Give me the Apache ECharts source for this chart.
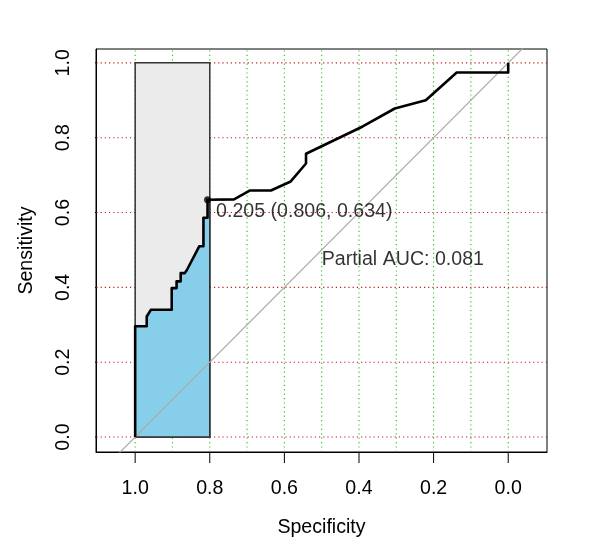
<!DOCTYPE html>
<html>
<head>
<meta charset="utf-8">
<script src="https://cdn.jsdelivr.net/npm/echarts@6/dist/echarts.min.js"></script>
<style>
  html, body { margin: 0; padding: 0; background: #fff; }
  #chart { width: 598px; height: 550px; }
</style>
</head>
<body>
<div id="chart"></div>
<script>
// ROC curve (specificity, sensitivity)
const rocSpec = [1.0, 1.0, 0.969, 0.969, 0.958, 0.902, 0.902, 0.889, 0.889, 0.878, 0.878, 0.867, 0.861, 0.828, 0.817, 0.817, 0.806, 0.806,
  0.735, 0.692, 0.636, 0.583, 0.542, 0.542, 0.390, 0.304, 0.221, 0.138, 0.0, 0.0]
const rocSens = [0.0, 0.296, 0.296, 0.322, 0.340, 0.340, 0.398, 0.398, 0.416, 0.416, 0.438, 0.438, 0.447, 0.510, 0.510, 0.586, 0.586, 0.634,
  0.635, 0.659, 0.659, 0.683, 0.731, 0.757, 0.830, 0.878, 0.900, 0.974, 0.974, 1.0]

// best threshold + partial AUC
const thresh = [0.806, 0.634]
const threshLabel = '0.205 (0.806, 0.634)'
const pauc = 0.081
const paucPos = [0.5, 0.5]
const focusSpec = [0.8, 1.0]   // partial auc range
const focusSens = [0.0, 1.0]

// ticks and grid lines
const xTicks = [0, 0.2, 0.4, 0.6, 0.8, 1.0]
const yTicks = [0, 0.2, 0.4, 0.6, 0.8, 1.0]
const vGrid = [0, 0.1, 0.2, 0.3, 0.4, 0.5, 0.6, 0.7, 0.8, 0.9, 1.0]
const hGrid = [0, 0.2, 0.4, 0.6, 0.8, 1.0]
const diag = [[1.2, -0.2], [-0.2, 1.2]]

const X_MIN = -0.104, X_MAX = 1.105
const Y_MIN = -0.04, Y_MAX = 1.037
const FONT = 'Liberation Sans'
const FS = 19.6
// tick length (11px) expressed in axis units
const TICK_X = 11 / 373
const TICK_Y = 11 / 374

const rocData = rocSpec.map((s, i) => [s, rocSens[i]])

// polygon under the curve, inside the focus range
const aucPoly = rocData.filter(p => p[0] >= focusSpec[0])
aucPoly.push([focusSpec[0], thresh[1]])
aucPoly.push([focusSpec[0], 0])

const gridSeries = []
vGrid.forEach(v => {
  gridSeries.push({
    type: 'line', z: 1, silent: true, symbol: 'none',
    data: [[v, Y_MIN], [v, Y_MAX]],
    lineStyle: { color: '#1fc21f', type: [1.2, 3.2], width: 1.1 }
  })
})
hGrid.forEach(v => {
  gridSeries.push({
    type: 'line', z: 1, silent: true, symbol: 'none',
    data: [[X_MIN, v], [X_MAX, v]],
    lineStyle: { color: '#c41a1a', type: [1.2, 3], width: 1.1 }
  })
})

// outside tick marks, drawn as unclipped line series
const tickSeries = []
xTicks.forEach(v => {
  tickSeries.push({
    type: 'line', z: 9, silent: true, symbol: 'none', clip: false,
    data: [[v, Y_MIN], [v, Y_MIN - TICK_Y]],
    lineStyle: { color: '#000', width: 1 }
  })
})
yTicks.forEach(v => {
  tickSeries.push({
    type: 'line', z: 9, silent: true, symbol: 'none', clip: false,
    data: [[X_MAX, v], [X_MAX + TICK_X, v]],
    lineStyle: { color: '#000', width: 1 }
  })
})

const myChart = echarts.init(document.getElementById('chart'), null, { renderer: 'canvas' })

const option = {
  animation: false,
  textStyle: { fontFamily: FONT },
  grid: {
    left: 96, top: 49, width: 451, height: 403,
    show: true, borderColor: '#000', borderWidth: 1, backgroundColor: 'transparent'
  },
  xAxis: {
    type: 'value',
    inverse: true,
    min: X_MIN,
    max: X_MAX,
    name: 'Specificity',
    nameLocation: 'middle',
    nameGap: 66,
    nameTextStyle: { color: '#000', fontSize: FS, fontFamily: FONT },
    axisLine: { show: true, onZero: false, lineStyle: { color: '#000', width: 1 } },
    splitLine: { show: false },
    axisTick: { show: false },
    axisLabel: {
      customValues: xTicks, color: '#000', fontSize: FS, fontFamily: FONT, margin: 27,
      formatter: v => v.toFixed(1)
    }
  },
  yAxis: {
    type: 'value',
    min: Y_MIN,
    max: Y_MAX,
    name: 'Sensitivity',
    nameLocation: 'middle',
    nameGap: 59,
    nameTextStyle: { color: '#000', fontSize: FS, fontFamily: FONT },
    axisLine: { show: true, onZero: false, lineStyle: { color: '#000', width: 1 } },
    splitLine: { show: false },
    axisTick: { show: false },
    axisLabel: {
      customValues: yTicks, color: '#000', fontSize: FS, fontFamily: FONT, margin: 22, rotate: 90,
      formatter: v => v.toFixed(1)
    }
  },
  series: [
    ...gridSeries,
    ...tickSeries,
    {
      // focus rectangle
      type: 'custom',
      z: 2,
      silent: true,
      data: [[focusSpec[0], focusSens[0], focusSpec[1], focusSens[1]]],
      renderItem: (params, api) => {
        const p1 = api.coord([api.value(0), api.value(1)])
        const p2 = api.coord([api.value(2), api.value(3)])
        return {
          type: 'rect',
          shape: { x: Math.min(p1[0], p2[0]), y: Math.min(p1[1], p2[1]), width: Math.abs(p2[0] - p1[0]), height: Math.abs(p2[1] - p1[1]) },
          style: { fill: '#ebebeb', stroke: '#333', lineWidth: 1.5 }
        }
      }
    },
    {
      // partial auc area
      type: 'custom',
      z: 3,
      silent: true,
      data: [0],
      renderItem: (params, api) => {
        return {
          type: 'polygon',
          shape: { points: aucPoly.map(p => api.coord(p)) },
          style: { fill: '#87ceeb', stroke: null }
        }
      }
    },
    {
      // rect edges again on top of the fill
      type: 'line',
      z: 4,
      silent: true,
      symbol: 'none',
      data: [[focusSpec[1], focusSens[0]], [focusSpec[0], focusSens[0]], [focusSpec[0], thresh[1]]],
      lineStyle: { color: '#333', width: 1.5 }
    },
    {
      type: 'line',
      z: 5,
      silent: true,
      symbol: 'none',
      data: diag,
      lineStyle: { color: '#aaaaaa', width: 1.2 }
    },
    {
      type: 'line',
      z: 6,
      silent: true,
      symbol: 'none',
      data: rocData,
      lineStyle: { color: '#000', width: 2.6, join: 'round' }
    },
    {
      type: 'scatter',
      z: 7,
      silent: true,
      symbolSize: 7,
      itemStyle: { color: '#000' },
      data: [thresh],
      label: {
        show: true,
        position: 'right',
        distance: 5,
        offset: [0, 12],
        formatter: threshLabel,
        color: '#000',
        fontSize: FS,
        fontFamily: FONT
      }
    },
    {
      type: 'scatter',
      z: 7,
      silent: true,
      symbolSize: 0,
      data: [paucPos],
      label: {
        show: true,
        position: [0, 0],
        align: 'left',
        verticalAlign: 'top',
        formatter: 'Partial AUC: ' + pauc.toFixed(3),
        color: '#000',
        fontSize: FS,
        fontFamily: FONT
      }
    }
  ]
}

myChart.setOption(option)
</script>
</body>
</html>
